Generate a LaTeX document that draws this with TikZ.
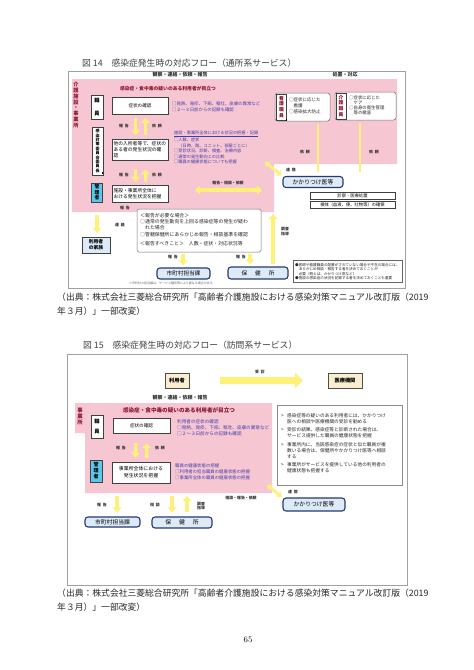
\documentclass[tikz,border=0pt]{standalone}
\usepackage{fontspec}
\newfontfamily\jp{Noto Sans CJK JP}
\newcommand{\jpf}[2]{\jp\fontsize{#1}{#2}\selectfont}
\newcommand{\nbul}{\makebox[6pt][l]{>}}
\newcommand{\nind}{\hspace*{6pt}}
\usetikzlibrary{arrows.meta,positioning,calc}
\definecolor{pinkbg}{RGB}{247,198,211}
\definecolor{yel}{RGB}{255,241,120}
\definecolor{cyanbx}{RGB}{88,200,236}
\definecolor{bluetx}{RGB}{62,62,168}
\definecolor{redtx}{RGB}{138,22,48}
\definecolor{lightbl}{RGB}{221,234,247}
\definecolor{navy}{RGB}{38,58,108}
\definecolor{framegr}{RGB}{160,160,160}
\definecolor{usrbg}{RGB}{250,238,210}

\begin{document}
\begin{tikzpicture}[x=1pt,y=-1pt,
  ttl/.style={anchor=west,inner sep=0pt,text=black!75,font=\jpf{8.8}{10}},
  captxt/.style={anchor=west,inner sep=0pt,align=left,text=black!85,font=\jpf{8.8}{14}},
  hdr/.style={inner sep=0pt,text=black!80,font=\jpf{5}{6}\bfseries},
  lead/.style={inner sep=0pt,text=redtx,font=\jpf{4.8}{5}\bfseries},
  vlab/.style={anchor=north,inner sep=0pt,align=center,text=redtx,font=\jpf{5.2}{5.8}\bfseries},
  wbox/.style={draw=black!75,fill=white,line width=0.5pt,inner sep=0pt,align=center},
  vbox/.style={wbox,font=\jpf{5}{5.8}\bfseries},
  mgrbox/.style={wbox,fill=cyanbx,line width=0.7pt,font=\jpf{4.8}{5.6}\bfseries},
  rbox/.style={draw=navy,fill=lightbl,line width=1.1pt,rounded corners=3pt,inner sep=0pt,font=\jpf{5.8}{6}},
  notebox/.style={draw=black!55,fill=white,line width=0.5pt,rounded corners=2.5pt,inner sep=0pt},
  bltxt/.style={anchor=west,inner sep=0pt,align=left,text=bluetx,font=\jpf{4.3}{5.5}},
  smtxt/.style={anchor=west,inner sep=0pt,align=left,text=black!85,font=\jpf{4.5}{5.5}},
  lbl/.style={inner sep=0pt,align=center,text=black!80,font=\jpf{3.9}{4.6}\bfseries},
  yarr/.style={draw=yel,line width=3.4pt,-{Triangle[width=8.5pt,length=5pt]}},
  ydbl/.style={draw=yel,line width=2.8pt,{Triangle[width=7pt,length=4pt]}-{Triangle[width=7pt,length=4pt]}},
  ybar/.style={draw=yel,line width=2.6pt}
]
\path[use as bounding box,fill=white] (0,0) rectangle (474,670);

% ---------- Figure 14 ----------
\node[ttl] (t14) at (82,63) {図 14　感染症発生時の対応フロー（通所系サービス）};
\draw[framegr,line width=0.8pt] (68,71) rectangle (405,288);
\node[hdr] (h14a) at (180,75) {観察・連絡・依頼・報告};
\node[hdr] (h14b) at (345,75) {処置・対応};
% pink area
\fill[pinkbg] (72,79) -- (397,79) -- (397,164) -- (274,164) -- (274,212) -- (72,212) -- cycle;
\node[vlab] (v14) at (76,82) {介\\護\\施\\設\\・\\事\\業\\所};
\node[lead] (l14) at (168,89) {感染症・食中毒の疑いのある利用者が目立つ};
% left column
\node[vbox,minimum width=12pt,minimum height=24pt,font=\jpf{5.2}{6}\bfseries] (stf14) at (97,107) {職\\[7pt]員};
\node[vbox,minimum width=11pt,minimum height=48pt,font=\jpf{4}{4.4}\bfseries] (cmt14) at (97.5,151) {感\\染\\対\\策\\委\\員\\会\\委\\員\\長};
\fill (101.5,172) rectangle ++(1.6,1.6);
\node[mgrbox,minimum width=11pt,minimum height=19pt] (mgr14) at (97,192.5) {管\\理\\者};
% boxes
\node[wbox,minimum width=56pt,minimum height=17pt,font=\jpf{4.6}{5}] (chk14) at (140,105.5) {症状の確認};
\node[wbox,minimum width=56pt,minimum height=21pt,align=left,text width=53pt,font=\jpf{4.8}{6}] (oth14) at (140,149.5) {他の入所者等で、症状の\\ある者の発生状況の確\\認};
\node[wbox,minimum width=56pt,minimum height=17pt,align=left,text width=53pt,font=\jpf{4.8}{6}] (all14) at (140,193.5) {施設・事業所全体に\\おける発生状況を把握};
\node[bltxt,font=\jpf{4.4}{5.5}] (b14a) at (172,106.75) {□発熱、発疹、下痢、嘔吐、皮膚の異常など\\□２～３日前からの記録も確認};
\node[bltxt,font=\jpf{4.2}{5.5}] (b14b) at (174,147.75) {\underline{施設・事業所全体における状況の把握・記録}\\□人数、症状\\　（日時、階、ユニット、部屋ごとに）\\□受診状況、診断、検査、治療内容\\□通常の発生動向との比較\\□職員の健康状態についても把握};
\draw[yarr,shorten <=3.5pt,shorten >=3.5pt] ([xshift=-4.5pt]chk14.south) -- ([xshift=-4.5pt]oth14.north);
\draw[yarr,shorten <=3.5pt,shorten >=3.5pt] ([xshift=5.5pt]oth14.north) -- ([xshift=5.5pt]chk14.south);
\node[lbl] (r14a) at (124,126) {報\hspace{2pt}告};
\node[lbl] (q14a) at (157,126) {依\hspace{2pt}頼};
\draw[yarr,shorten <=9pt,shorten >=3pt] ([xshift=-4.5pt]oth14.south) -- ([xshift=-4.5pt]all14.north);
\draw[yarr,shorten <=3pt,shorten >=9pt] ([xshift=5.5pt]all14.north) -- ([xshift=5.5pt]oth14.south);
\node[lbl] (r14b) at (124,175) {報\hspace{2pt}告};
\node[lbl] (q14b) at (157,175) {依\hspace{2pt}頼};
% across to the right
\coordinate (h14l) at (195,190);
\coordinate (h14r) at (262,190);
\draw[ydbl,line width=3.2pt,{Triangle[width=8.5pt,length=5pt]}-{Triangle[width=8.5pt,length=5pt]}] (h14l) -- (h14r);
\node[lbl] (h14t) at (228,183) {報告・相談・依頼};
% right column
\node[notebox,minimum width=55pt,minimum height=28pt] (nrs14) at (302.5,107) {};
\node[vbox,text=redtx,minimum width=10pt,minimum height=26pt,font=\jpf{4.8}{5.8}\bfseries] (nrl14) at (281.5,107) {看\\護\\職\\員};
\fill (285.5,119) rectangle ++(1.5,1.5);
\node[smtxt,font=\jpf{4.5}{6}] (nrt14) at (289,105.5) {○症状に応じた\\　看護\\○感染拡大防止};
\node[notebox,minimum width=61pt,minimum height=28pt] (car14) at (365.5,106) {};
\node[vbox,text=redtx,minimum width=10pt,minimum height=26pt,font=\jpf{4.8}{5.8}\bfseries] (crl14) at (341,106) {介\\護\\職\\員};
\node[smtxt,font=\jpf{4.4}{5}] (crt14) at (349,105) {○症状に応じた\\　ケア\\○自身の衛生管理\\　等の徹底};
\coordinate (b14n) at (318,172);
\coordinate (b14c) at (360,172);
\draw[ybar,shorten <=3pt] (nrs14.south -| b14n) -- (b14n);
\draw[ybar,shorten <=3pt] (car14.south -| b14c) -- (b14c);
\node[lbl] (q14c) at (305,152) {依\hspace{2pt}頼};
\node[lbl] (q14d) at (374,152) {依\hspace{2pt}頼};
\node[rbox,minimum width=60pt,minimum height=11pt] (kak14) at (313,182) {かかりつけ医等};
\node[wbox,minimum width=85pt,minimum height=7.5pt,font=\jpf{4.3}{5}] (exm14) at (352.5,195.5) {診察・医療処置};
\node[wbox,minimum width=85pt,minimum height=7pt,font=\jpf{4.3}{5}] (spc14) at (352.5,205) {検体（血液、便、吐物等）の確保};
\coordinate (d14) at (265,162);
\draw[ydbl,shorten >=1pt] (d14) -- (kak14.north west);
\node[lbl] (k14) at (291,170) {連\hspace{2pt}携};
% below the pink area
\node[lbl] (r14c) at (125,208) {報\hspace{2pt}告};
\node[notebox,rounded corners=1.5pt,minimum width=124pt,minimum height=43pt] (nts14) at (199,230.5) {};
\node[smtxt,font=\jpf{4.9}{6.3}] (ntt14) at (140,229.5) {＜報告が必要な場合＞\\○通常の発生動向を上回る感染症等の発生が疑わ\\　れた場合\\○管轄保健所にあらかじめ報告・相談基準を確認\\[3pt]＜報告すべきこと＞　人数・症状・対応状況等};
\node[wbox,fill=lightbl,minimum width=28pt,minimum height=16pt,font=\jpf{4.8}{6}\bfseries] (fam14) at (96,245) {利用者\\の家族};
\draw[yarr,shorten <=13pt,shorten >=4pt] (mgr14.south) -- (mgr14.south |- fam14.north);
\node[lbl] (n14) at (120,225) {連\hspace{2pt}絡};
\node[rbox,minimum width=53pt,minimum height=11pt,font=\jpf{5.6}{6}] (cty14) at (183.5,273.5) {市町村担当課};
\node[rbox,minimum width=60pt,minimum height=12pt,font=\jpf{5.6}{6}] (hc14) at (258,273) {保\hspace{8pt}健\hspace{8pt}所};
\draw[yarr,shorten <=2pt,shorten >=2pt] ([xshift=-0.5pt]cty14.north |- nts14.south) -- ([xshift=-0.5pt]cty14.north);
\node[lbl] (r14d) at (173,257) {報\hspace{2pt}告};
\draw[yarr,shorten <=2pt,shorten >=2pt] ([xshift=-8pt]hc14.north |- nts14.south) -- ([xshift=-8pt]hc14.north);
\node[lbl] (r14e) at (241,257) {報\hspace{2pt}告};
\coordinate (p14) at (273,213);
\draw[yarr,shorten <=2pt,shorten >=1pt] ([xshift=15pt]hc14.north) -- ([xshift=15pt]hc14.north |- p14);
\node[lbl] (g14) at (285,231.5) {調査\\指導};
\node[draw=black!60,line width=0.4pt,minimum width=109pt,minimum height=22pt,inner sep=0pt] (ft14) at (347.5,271) {};
\node[smtxt,font=\jpf{3.6}{4.4}] (ftt14) at (295,271.5) {●医師や看護職員の配置がされていない場合や不在の場合には、\\　あらかじめ相談・報告する者を決めておくことが\\　必要（例えば、かかりつけ医など）\\●施設の感染症の状況を記録する者を決めておくことも重要};
\node[inner sep=0pt,text=black!60,font=\jpf{3}{3.5}] (fn14) at (171,283.5) {※市町村の担当課は、サービス種別等により異なる場合がある};
\node[captxt] (c14) at (57,304) {（出典：株式会社三菱総合研究所「高齢者介護施設における感染対策マニュアル改訂版（2019\\年３月）」一部改変）};

% ---------- Figure 15 ----------
\node[ttl] (t15) at (83,345) {図 15　感染症発生時の対応フロー（訪問系サービス）};
\draw[framegr,line width=0.8pt] (67,354) rectangle (407,585);
\node[wbox,fill=usrbg,draw=black!70,minimum width=24pt,minimum height=15pt,font=\jpf{5.2}{6}\bfseries] (usr15) at (177,380.5) {利用者};
\node[wbox,fill=usrbg,draw=black!70,minimum width=34pt,minimum height=15pt,font=\jpf{5.2}{6}\bfseries] (med15) at (345,380.5) {医療機関};
\draw[draw=yel,line width=7pt,-{Triangle[width=16pt,length=8pt]},shorten <=31pt,shorten >=25pt] (usr15) -- (med15);
\node[lbl] (s15) at (260,372.5) {受\hspace{2pt}診};
\node[hdr] (h15) at (180,398) {観察・連絡・依頼・報告};
% pink area
\fill[pinkbg] (75,403) -- (272,403) -- (272,493) -- (85,493) -- (85,433) -- (75,433) -- cycle;
\node[vlab,font=\jpf{5.4}{5.8}\bfseries] (v15) at (80,408) {事\\業\\所};
\node[lead,font=\jpf{5.6}{6}\bfseries] (l15) at (179,410) {感染症・食中毒の疑いのある利用者が目立つ};
\node[vbox,minimum width=12pt,minimum height=23pt,font=\jpf{5.2}{6}\bfseries] (stf15) at (97,426.5) {職\\[4pt]員};
\node[wbox,minimum width=57pt,minimum height=15pt,font=\jpf{4.6}{5}] (chk15) at (141.5,425.5) {症状の確認};
\node[bltxt,font=\jpf{4.6}{6}] (b15a) at (177,427.5) {利用者の症状の確認\\□発熱、発疹、下痢、嘔吐、皮膚の異常など\\□２～３日前からの記録も確認};
\node[mgrbox,minimum width=12pt,minimum height=22pt,font=\jpf{5}{6}\bfseries] (mgr15) at (96,471) {管\\理\\者};
\node[wbox,minimum width=58pt,minimum height=21pt,font=\jpf{4.9}{7}] (all15) at (141,472.5) {事業所全体における\\発生状況を把握};
\draw[yarr,shorten <=10pt,shorten >=4pt] ([xshift=-5.5pt]chk15.south) -- ([xshift=-5.5pt]all15.north);
\draw[yarr,shorten <=4pt,shorten >=10pt] ([xshift=5.5pt]all15.north) -- ([xshift=5.5pt]chk15.south);
\node[lbl] (r15a) at (121,448) {報\hspace{2pt}告};
\node[lbl] (q15a) at (160,448) {依\hspace{2pt}頼};
\node[bltxt,font=\jpf{4.4}{6}] (b15b) at (175,472) {職員の健康状態の把握\\□利用者の担当職員の健康状態の把握\\□事業所全体の職員の健康状態の把握};
% right notes
\node[notebox,rounded corners=0pt,draw=black!45,minimum width=125pt,minimum height=80pt] (nts15) at (339.5,445) {};
\node[smtxt,font=\jpf{4.7}{6}] (ntt15) at (281,443.25) {\nbul 感染症等の疑いのある利用者には、かかりつけ\\\nind 医への相談や医療機関の受診を勧める\\[2.5pt]\nbul 受診の結果、感染症等と診断された場合は、\\\nind サービス提供した職員の健康状態を把握\\[2.5pt]\nbul 事業所内に、当該感染症の症状と似た職員が複\\\nind 数いる場合は、保健所やかかりつけ医等へ相談\\\nind する\\[2.5pt]\nbul 事業所がサービスを提供している他の利用者の\\\nind 健康状態も把握する};
% below the pink area
\node[rbox,minimum width=55pt,minimum height=10pt,font=\jpf{5.8}{6}] (cty15) at (112.5,522) {市町村担当課};
\node[rbox,minimum width=60pt,minimum height=11pt,font=\jpf{5.8}{6}] (hc15) at (182,522.5) {保\hspace{8pt}健\hspace{8pt}所};
\coordinate (p15a) at (117,494);
\coordinate (p15b) at (172,494);
\coordinate (p15c) at (187,494);
\draw[yarr,shorten <=2pt,shorten >=4pt] (p15a) -- (p15a |- cty15.north);
\draw[yarr,shorten <=2pt,shorten >=4pt] (p15b) -- (p15b |- hc15.north);
\draw[yarr,shorten <=4pt,shorten >=2pt] (p15c |- hc15.north) -- (p15c);
\node[lbl] (r15b) at (102,505) {報\hspace{2pt}告};
\node[lbl] (s15b) at (155,505) {相\hspace{2pt}談};
\node[lbl] (g15) at (201,506) {調査\\指導};
\node[rbox,minimum width=62pt,minimum height=13pt] (kak15) at (314,504.5) {かかりつけ医等};
\coordinate (d15) at (267,485);
\draw[ydbl,shorten >=1pt] (d15) -- (kak15.north west);
\node[lbl] (h15t) at (241,498) {相談・報告・依頼};
\node[lbl] (k15) at (293,492) {連\hspace{2pt}携};
\node[captxt] (c15) at (57,600.5) {（出典：株式会社三菱総合研究所「高齢者介護施設における感染対策マニュアル改訂版（2019\\年３月）」一部改変）};

% page number
\node[inner sep=0pt,font=\fontsize{8.5}{10}\selectfont] (pg) at (248,640) {65};
\end{tikzpicture}
\end{document}
